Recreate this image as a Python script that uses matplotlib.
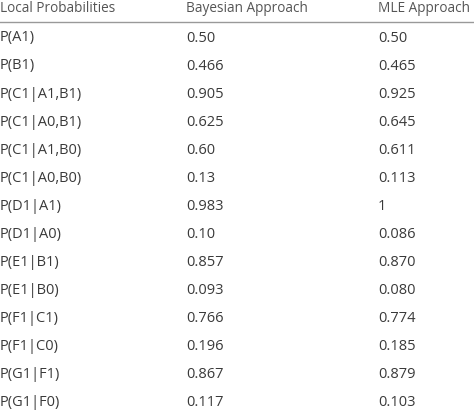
import matplotlib
matplotlib.use("Agg")
import matplotlib.pyplot as plt

headers = ["Local Probabilities", "Bayesian Approach", "MLE Approach"]
labels = ["P(A1)", "P(B1)", "P(C1|A1,B1)", "P(C1|A0,B1)", "P(C1|A1,B0)", "P(C1|A0,B0)",
          "P(D1|A1)", "P(D1|A0)", "P(E1|B1)", "P(E1|B0)", "P(F1|C1)", "P(F1|C0)",
          "P(G1|F1)", "P(G1|F0)"]
bayes = ["0.50", "0.466", "0.905", "0.625", "0.60", "0.13", "0.983", "0.10", "0.857",
         "0.093", "0.766", "0.196", "0.867", "0.117"]
mle = ["0.50", "0.465", "0.925", "0.645", "0.611", "0.113", "1", "0.086", "0.870",
       "0.080", "0.774", "0.185", "0.879", "0.103"]

W, H = 474, 411
fig = plt.figure(figsize=(W/100, H/100), dpi=100)
ax = fig.add_axes([0, 0, 1, 1])
ax.set_xlim(0, W); ax.set_ylim(H, 0); ax.axis("off")
col_x = [0, 186, 378]
fs = 10.5
color = "#3a3a3a"
font = "Open Sans"
for x, h in zip(col_x, headers):
    ax.text(x, 8, h, fontsize=9.8, color="#555555", va="center", ha="left", family=font)
ax.plot([0, W], [22.5, 22.5], color="#999999", lw=1)
for i, (l, b, m) in enumerate(zip(labels, bayes, mle)):
    y = 38 + i * 28
    for x, t in zip(col_x, (l, b, m)):
        ax.text(x, y, t, fontsize=fs, color=color, va="center", ha="left", family=font)
fig.savefig("out.png", dpi=100)
